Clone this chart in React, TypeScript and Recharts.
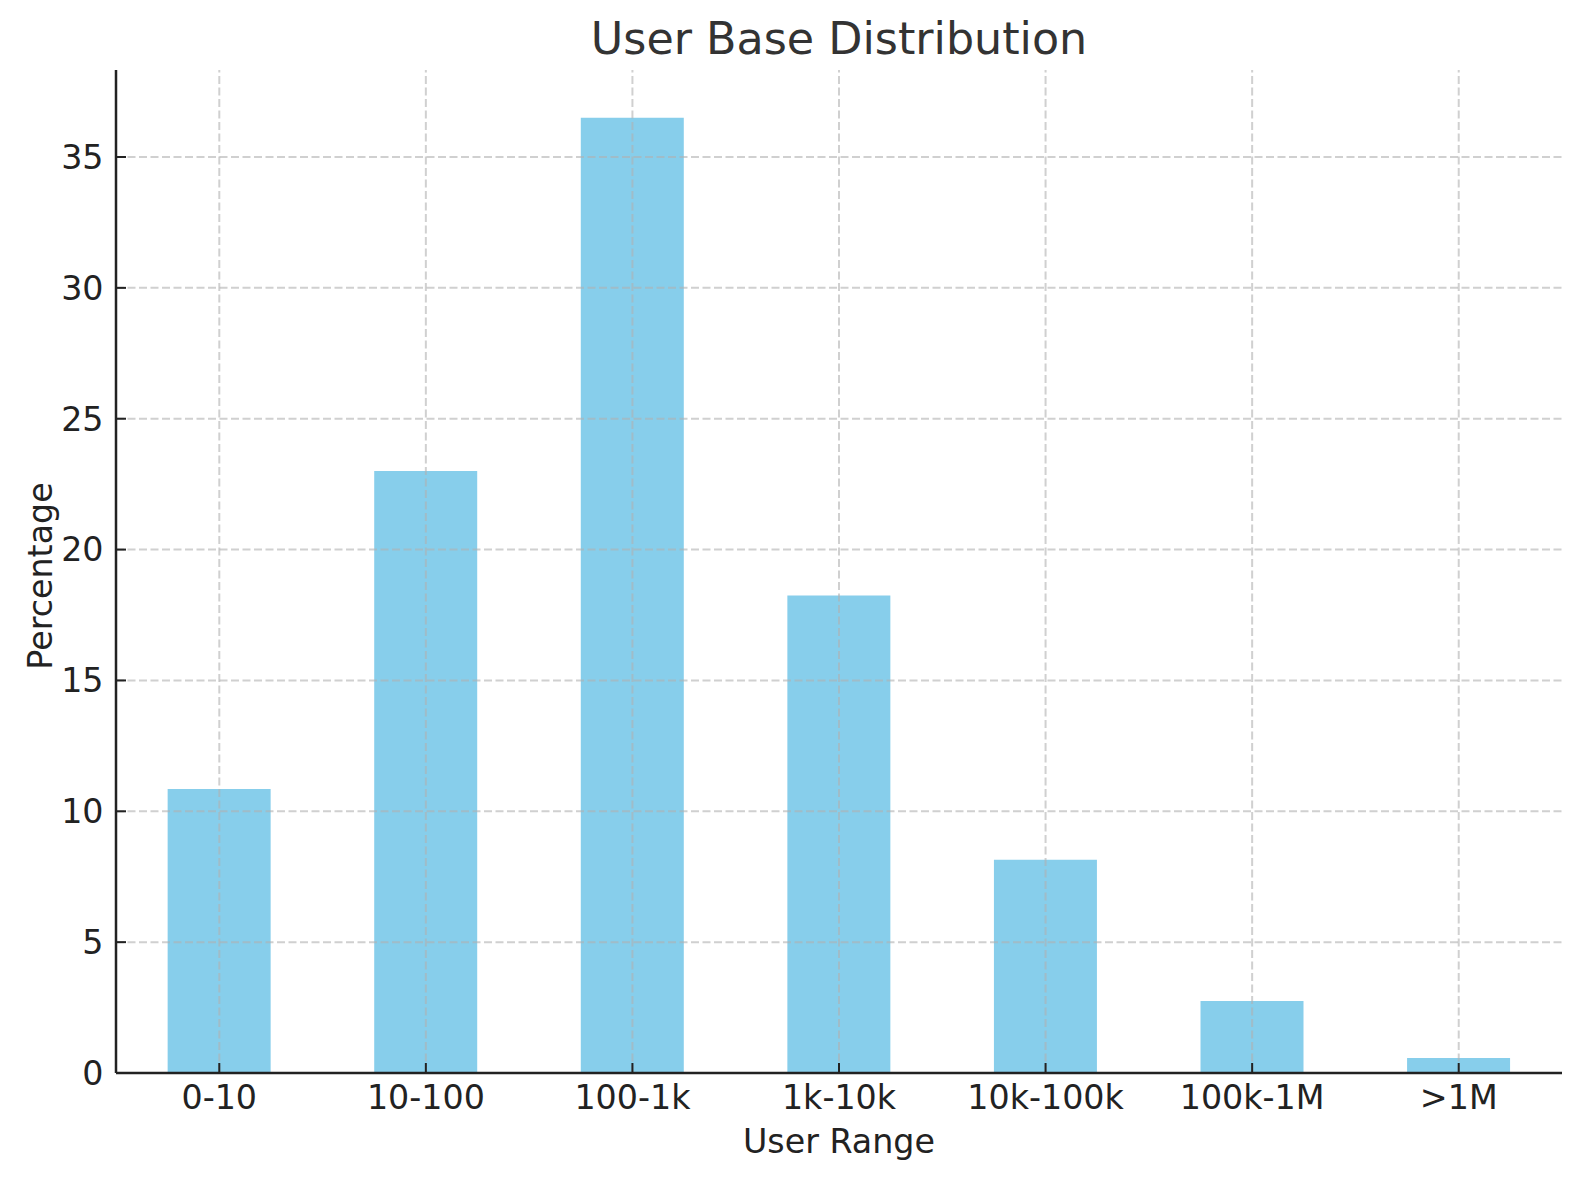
import React from 'react';
import { BarChart, Bar, XAxis, YAxis, ReferenceLine } from 'recharts';

const categories = ['0-10', '10-100', '100-1k', '1k-10k', '10k-100k', '100k-1M', '>1M'];
const percentages = [10.85, 23.0, 36.5, 18.25, 8.15, 2.75, 0.57];
const yTicks = [0, 5, 10, 15, 20, 25, 30, 35];

const data = categories.map((name, i) => ({ name, value: percentages[i] }));
const yMax = Math.max(...percentages) * 1.05;

const FONT = '"DejaVu Sans", sans-serif';
const INK = '#222222';

// grid lines drawn on top of the bars, like the original
const gridStyle = { stroke: '#b0b0b0', strokeOpacity: 0.6, strokeWidth: 2, strokeDasharray: '8 3.5' };

export default function App() {
  return (
    <div style={{ position: 'absolute', left: 0, top: 0, width: 1580, height: 1180, background: '#fff' }}>
      <BarChart
        width={1580}
        height={1180}
        data={data}
        margin={{ top: 70, right: 18, left: 0, bottom: 0 }}
        barCategoryGap="25%"
      >
        <XAxis
          dataKey="name"
          interval={0}
          height={107}
          tickSize={-10}
          tickMargin={22.5}
          axisLine={{ stroke: INK, strokeWidth: 2.5 }}
          tickLine={{ stroke: INK, strokeWidth: 2 }}
          tick={{ fontSize: 33.3, fill: INK, fontFamily: FONT }}
        />
        <YAxis
          width={116}
          domain={[0, yMax]}
          ticks={yTicks}
          tickSize={-10}
          tickMargin={22.5}
          axisLine={{ stroke: INK, strokeWidth: 2.5 }}
          tickLine={{ stroke: INK, strokeWidth: 2 }}
          tick={{ fontSize: 33.3, fill: INK, fontFamily: FONT }}
        />
        <Bar dataKey="value" fill="#87CEEB" isAnimationActive={false} />
        {yTicks.filter((t) => t > 0).map((t) => (
          <ReferenceLine key={`h-${t}`} y={t} {...gridStyle} />
        ))}
        {categories.map((c) => (
          <ReferenceLine key={`v-${c}`} x={c} {...gridStyle} />
        ))}
      </BarChart>
      <svg
        width={1580}
        height={1180}
        style={{ position: 'absolute', left: 0, top: 0, pointerEvents: 'none' }}
      >
        <text x={839} y={54} textAnchor="middle" fontSize={44.4} fill="#333333" fontFamily={FONT}>
          User Base Distribution
        </text>
        <text x={839} y={1153} textAnchor="middle" fontSize={33.3} fill={INK} fontFamily={FONT}>
          User Range
        </text>
        <text
          x={51.5}
          y={576}
          textAnchor="middle"
          fontSize={33.3}
          fill={INK}
          fontFamily={FONT}
          transform="rotate(-90 51.5 576)"
        >
          Percentage
        </text>
      </svg>
    </div>
  );
}
